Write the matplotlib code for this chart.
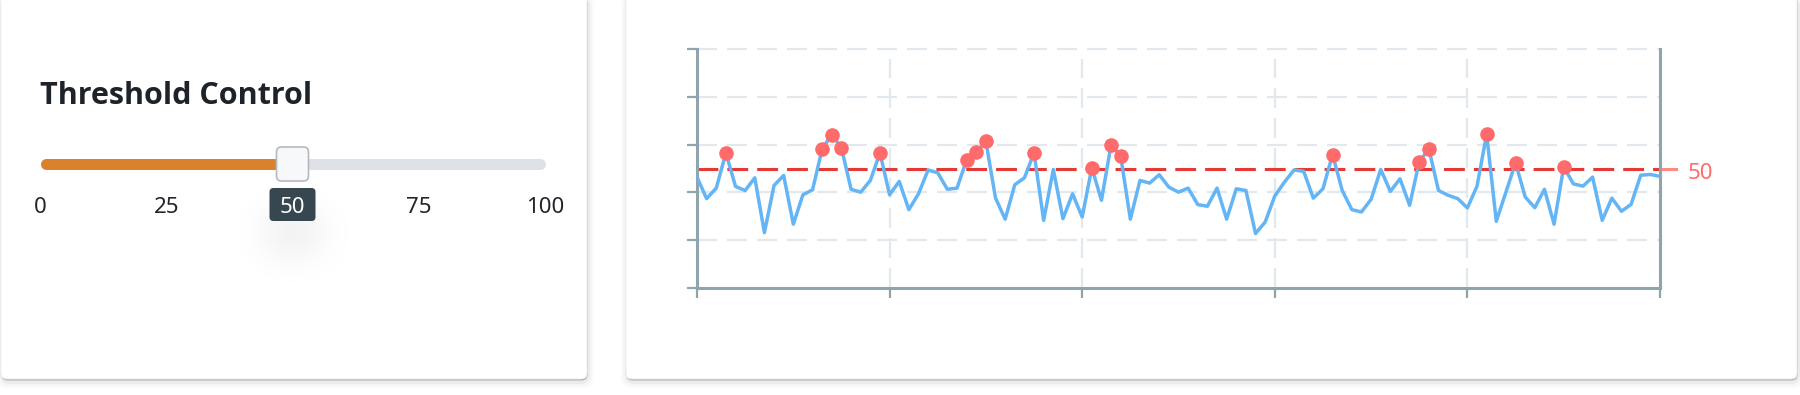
import numpy as np
import matplotlib
matplotlib.use('Agg')
import matplotlib.pyplot as plt
from matplotlib.patches import FancyBboxPatch

plt.rcParams['font.family'] = ['Noto Sans', 'DejaVu Sans']
plt.rcParams['lines.scale_dashes'] = False

# data
values = [46.4, 37.4, 41.8, 56.5, 42.5, 40.8, 46.1, 23.2, 42.9, 47.1,
          26.7, 39.0, 41.1, 58.2, 64.2, 58.6, 41.3, 40.1, 45.0, 56.5,
          39.0, 44.6, 32.8, 39.4, 49.4, 48.2, 41.3, 41.8, 53.6, 56.8,
          61.3, 37.6, 28.8, 43.2, 46.1, 56.5, 28.3, 49.6, 29.0, 39.4,
          29.7, 50.3, 36.7, 60.0, 55.1, 28.8, 45.0, 43.9, 47.4, 42.2,
          40.1, 41.8, 34.9, 34.2, 41.8, 28.8, 41.5, 40.8, 22.8, 27.6,
          38.5, 44.3, 49.4, 48.8, 37.6, 41.5, 55.8, 40.8, 32.8, 31.8,
          37.1, 49.6, 40.4, 45.7, 34.6, 52.9, 58.2, 40.8, 38.8, 37.4,
          33.5, 42.6, 64.4, 27.9, 40.1, 52.4, 38.1, 33.6, 41.3, 26.7,
          50.7, 43.6, 42.6, 46.4, 28.3, 37.6, 32.1, 35.0, 47.2, 47.5,
          46.7]
threshold = 50
slider_min, slider_max = 0, 100
slider_ticks = [0, 25, 50, 75, 100]
x_ticks = [0, 20, 40, 60, 80, 100]
y_ticks = [0, 20, 40, 60, 80, 100]
title = 'Threshold Control'

fig = plt.figure(figsize=(18, 3.95), dpi=100)
fig.patch.set_facecolor('white')

# background layer in pixel coordinates (y down)
bg = fig.add_axes([0, 0, 1, 1])
bg.set_xlim(0, 1800)
bg.set_ylim(395, 0)
bg.axis('off')


def card(x0, y0, x1, y1):
    w, h = x1 - x0, y1 - y0
    for off, a in [(6, 0.015), (4, 0.025), (2, 0.04)]:
        bg.add_patch(FancyBboxPatch((x0 - off + 1, y0 - off + 3), w + 2 * off, h + 2 * off,
                                    boxstyle='round,pad=0,rounding_size=10',
                                    fc='black', ec='none', alpha=a))
    bg.add_patch(FancyBboxPatch((x0 + 0.5, y0 + 1.5), w, h,
                                boxstyle='round,pad=0,rounding_size=6',
                                fc='#b3b3b3', ec='none'))
    bg.add_patch(FancyBboxPatch((x0, y0), w, h,
                                boxstyle='round,pad=0,rounding_size=6',
                                fc='white', ec='#ececec', lw=0.5))


card(1, -4, 587, 379)
card(626, -4, 1797, 379)

# slider
def sx(v):
    return 40 + (v - slider_min) / (slider_max - slider_min) * 505


bg.text(40, 96, title, fontsize=22, fontweight='bold', color='#1e2329',
        family=['Open Sans', 'DejaVu Sans'], ha='left', va='center')

track_lw = 11 * 72 / 100
bg.plot([sx(slider_min) + 5.5, sx(slider_max) - 5.5], [164, 164], color='#dee2e6',
        lw=track_lw, solid_capstyle='round', zorder=2)
bg.plot([sx(slider_min) + 5.5, sx(threshold)], [164, 164], color='#d9822b',
        lw=track_lw, solid_capstyle='round', zorder=3)

# soft glow under the value label
gx, gy = np.meshgrid(np.linspace(-1, 1, 120), np.linspace(-1, 1, 120))
glow = np.zeros((120, 120, 4))
glow[..., 3] = 0.05 * np.exp(-(gx ** 2 + gy ** 2) / 0.22)
bg.imshow(glow, extent=(sx(threshold) - 75, sx(threshold) + 75, 300, 165),
          aspect='auto', zorder=1, interpolation='bilinear')
bg.set_xlim(0, 1800)
bg.set_ylim(395, 0)

bg.add_patch(FancyBboxPatch((sx(threshold) - 16, 147), 32, 34,
                            boxstyle='round,pad=0,rounding_size=5',
                            fc='#f7f8fa', ec='#b5b9be', lw=1.2, zorder=4))

for t in slider_ticks:
    if t == threshold:
        bg.add_patch(FancyBboxPatch((sx(t) - 23, 188), 46, 33,
                                    boxstyle='round,pad=0,rounding_size=4',
                                    fc='#37474f', ec='none', zorder=4))
        bg.text(sx(t), 205, str(t), fontsize=16, color='white',
                ha='center', va='center_baseline', zorder=5)
    else:
        bg.text(sx(t), 205, str(t), fontsize=16, color='#212529',
                ha='center', va='center_baseline')

# chart
ax = fig.add_axes([697 / 1800, (395 - 288) / 395, 963 / 1800, 239 / 395])
ax.set_facecolor('none')
x = np.arange(len(values))
v = np.array(values)
ax.set_xlim(0, len(values) - 1)
ax.set_ylim(0, 100)

for yt in y_ticks[1:]:
    ax.axhline(yt, color='#e3e8ed', lw=1.6, dashes=(14.4, 7.2), zorder=1, clip_on=False)
for xt in x_ticks[1:-1]:
    ax.axvline(xt, ymax=0.96, color='#e3e8ed', lw=1.6, dashes=(14.4, 7.2), zorder=1)

ax.axhline(threshold, color='#e53935', lw=2.2, dashes=(15, 6.5), zorder=2)
ax.plot([x[-1], x[-1] + 1.7], [threshold, threshold], color='#ff8a80', lw=2.2,
        clip_on=False, zorder=2)
ax.text(x[-1] + 2.9, threshold - 1, str(threshold), color='#ff6b6b', fontsize=16,
        ha='left', va='center_baseline')

ax.plot(x, v, color='#64b5f6', lw=2.5, zorder=3)
above = v > threshold
ax.plot(x[above], v[above], 'o', ms=10.5, color='#ff6b6b', mec='none', zorder=4)

ax.set_xticks(x_ticks)
ax.set_yticks(y_ticks)
ax.tick_params(axis='both', labelbottom=False, labelleft=False,
               color='#90a4ae', width=1.6, length=7)
for side in ['left', 'bottom', 'right']:
    ax.spines[side].set_color('#90a4ae')
    ax.spines[side].set_linewidth(2.2)
ax.spines['top'].set_visible(False)

fig.savefig('out.png', dpi=100, facecolor='white')
